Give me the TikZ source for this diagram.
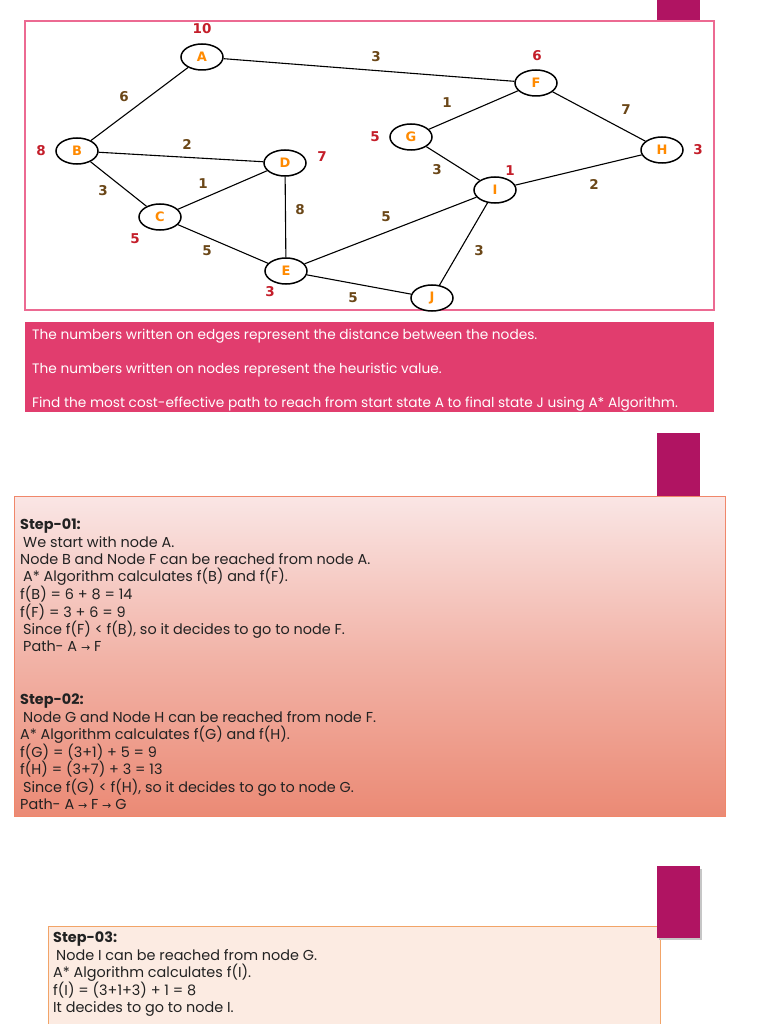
\documentclass[tikz,border=0pt]{standalone}
\usepackage{fontspec}
\setmainfont{Poppins}
\newfontfamily\graphfont{DejaVu Sans}
\newfontfamily\symfont{DejaVu Sans}
\usetikzlibrary{shapes.geometric}
\definecolor{tabmag}{HTML}{B01462}
\definecolor{framepink}{HTML}{EC6A92}
\definecolor{notepink}{HTML}{E13D6E}
\definecolor{nodeorange}{HTML}{FF8A00}
\definecolor{heurred}{HTML}{C41E2A}
\definecolor{wtbrown}{HTML}{6B4718}
\definecolor{boxtop}{HTML}{FAE6E5}
\definecolor{boxbot}{HTML}{EB8A75}
\definecolor{boxline}{HTML}{F0876A}
\definecolor{lastfill}{HTML}{FCEBE2}
\definecolor{lastline}{HTML}{F2A468}
\definecolor{steptxt}{HTML}{222222}
\newcommand{\goes}{{\symfont\fontsize{11}{11}\selectfont →}}

\begin{document}
\begin{tikzpicture}[x=1pt, y=-1pt,
    vertex/.style={ellipse, draw, line width=1.5pt, fill=white, minimum width=42pt,
                   minimum height=26pt, inner sep=0pt, text=nodeorange,
                   font=\graphfont\bfseries\fontsize{13}{13}\selectfont},
    edge/.style={line width=1.1pt},
    heur/.style={text=heurred, inner sep=0pt, font=\graphfont\bfseries\fontsize{13.5}{13.5}\selectfont},
    wt/.style={text=wtbrown, inner sep=0pt, font=\graphfont\bfseries\fontsize{13.5}{13.5}\selectfont},
    tab/.style={fill=tabmag, draw=none},
    steptext/.style={align=left, anchor=north west, inner sep=0pt, text=steptxt,
                     font=\fontsize{14.4}{17.2}\selectfont}
  ]
    \clip (0,0) rectangle (768,1024);
    \fill[white] (0,0) rectangle (768,1024);

    % graph panel
    \fill[tab] (657,0) rectangle (700,21);
    \draw[framepink, line width=1.3pt] (25,21) rectangle (714,310);

    \node[vertex] (A) at (202,57) {A};
    \node[vertex] (B) at (77,151) {B};
    \node[vertex] (C) at (160,217) {C};
    \node[vertex] (D) at (285,163) {D};
    \node[vertex] (E) at (286,271) {E};
    \node[vertex] (F) at (536,83) {F};
    \node[vertex] (G) at (411,137) {G};
    \node[vertex] (H) at (662,150) {H};
    \node[vertex] (I) at (495,190) {I};
    \node[vertex] (J) at (432,298) {J};

    \draw[edge] (A) -- (F);
    \draw[edge] (A) -- (B);
    \draw[edge] (B) -- (D);
    \draw[edge] (B) -- (C);
    \draw[edge] (C) -- (D);
    \draw[edge] (D) -- (E);
    \draw[edge] (C) -- (E);
    \draw[edge] (E) -- (I);
    \draw[edge] (E) -- (J);
    \draw[edge] (F) -- (G);
    \draw[edge] (F) -- (H);
    \draw[edge] (G) -- (I);
    \draw[edge] (I) -- (H);
    \draw[edge] (I) -- (J);

    % heuristic values
    \node[heur] (hA) at (202,29) {10};
    \node[heur] (hB) at (41,151) {8};
    \node[heur] (hC) at (135,239) {5};
    \node[heur] (hD) at (322,157) {7};
    \node[heur] (hE) at (270,292) {3};
    \node[heur] (hF) at (537,56) {6};
    \node[heur] (hG) at (375,137) {5};
    \node[heur] (hH) at (698,150) {3};
    \node[heur] (hI) at (510,171) {1};

    % edge distances
    \node[wt] (wAF) at (376,57) {3};
    \node[wt] (wAB) at (124,97) {6};
    \node[wt] (wBD) at (187,144) {2};
    \node[wt] (wBC) at (103,191) {3};
    \node[wt] (wCD) at (203,184) {1};
    \node[wt] (wDE) at (300,210) {8};
    \node[wt] (wCE) at (207,251) {5};
    \node[wt] (wEI) at (386,217) {5};
    \node[wt] (wEJ) at (353,298) {5};
    \node[wt] (wFG) at (447,103) {1};
    \node[wt] (wFH) at (626,110) {7};
    \node[wt] (wGI) at (437,170) {3};
    \node[wt] (wIH) at (594,184) {2};
    \node[wt] (wIJ) at (479,251) {3};

    % problem note
    \fill[notepink] (25,322) rectangle (714,412);
    \node[anchor=north west, align=left, inner sep=0pt, text=white,
          font=\fontsize{13.7}{34}\selectfont] (note) at (32,329)
      {The numbers written on edges represent the distance between the nodes.\\
       The numbers written on nodes represent the heuristic value.\\
       Find the most cost-effective path to reach from start state A to final state J using A* Algorithm.};

    % steps 1 and 2
    \fill[tab] (657,433) rectangle (700,497);
    \shade[top color=boxtop, bottom color=boxbot, middle color=boxtop!45!boxbot]
      (14,496) rectangle (725,816);
    \draw[boxline, line width=0.9pt] (14,496) rectangle (725,816);
    \node[steptext] (step1) at (20,519)
      {\textbf{Step-01:}\\
       \hspace*{3pt}We start with node A.\\
       Node B and Node F can be reached from node A.\\
       \hspace*{3pt}A* Algorithm calculates f(B) and f(F).\\
       f(B) = 6 + 8 = 14\\
       f(F) = 3 + 6 = 9\\
       \hspace*{3pt}Since f(F) < f(B), so it decides to go to node F.\\
       \hspace*{3pt}Path- A \goes{} F};
    \node[steptext] (step2) at (20,694)
      {\textbf{Step-02:}\\
       \hspace*{3pt}Node G and Node H can be reached from node F.\\
       A* Algorithm calculates f(G) and f(H).\\
       f(G) = (3+1) + 5 = 9\\
       f(H) = (3+7) + 3 = 13\\
       \hspace*{3pt}Since f(G) < f(H), so it decides to go to node G.\\
       Path- A \goes{} F \goes{} G};

    % step 3
    \fill[lastfill] (48,926) rectangle (660,1030);
    \draw[lastline, line width=0.9pt] (48,926) rectangle (660,1030);
    \fill[gray!45] (659,869) rectangle (702,940);
    \fill[tab] (657,866) rectangle (700,938);
    \node[steptext] (step3) at (53,932)
      {\textbf{Step-03:}\\
       \hspace*{3pt}Node I can be reached from node G.\\
       A* Algorithm calculates f(I).\\
       f(I) = (3+1+3) + 1 = 8\\
       It decides to go to node I.};
  \end{tikzpicture}
\end{document}
